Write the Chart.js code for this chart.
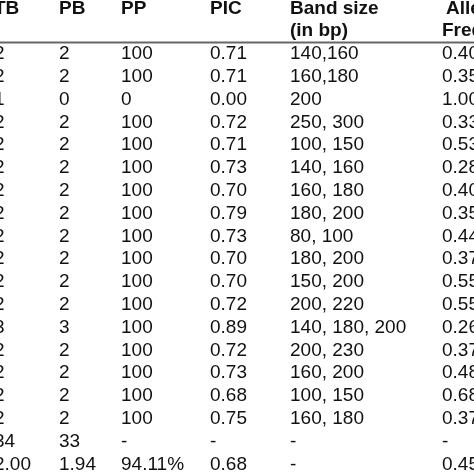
<!DOCTYPE html>
<html><head><meta charset="utf-8">
<script src="https://cdn.jsdelivr.net/npm/chart.js@4"></script>
<style>html,body{margin:0;padding:0;background:#fff}#w{width:474px;height:474px}</style>
</head><body><div id="w"><canvas id="c"></canvas></div>
<script>
const headers1 = ["TB","PB","PP","PIC","Band size","Allele"];
const headers2 = ["","","","","(in bp)","Frequency"];
const TB = ["2","2","1","2","2","2","2","2","2","2","2","2","3","2","2","2","2","34","2.00"];
const PB = ["2","2","0","2","2","2","2","2","2","2","2","2","3","2","2","2","2","33","1.94"];
const PP = ["100","100","0","100","100","100","100","100","100","100","100","100","100","100","100","100","100","-","94.11%"];
const PIC = ["0.71","0.71","0.00","0.72","0.71","0.73","0.70","0.79","0.73","0.70","0.70","0.72","0.89","0.72","0.73","0.68","0.75","-","0.68"];
const bandSize = ["140,160","160,180","200","250, 300","100, 150","140, 160","160, 180","180, 200","80, 100","180, 200","150, 200","200, 220","140, 180, 200","200, 230","160, 200","100, 150","160, 180","-","-"];
const alleleFreq = ["0.40","0.35","1.00","0.33","0.53","0.28","0.40","0.35","0.44","0.37","0.55","0.55","0.26","0.37","0.48","0.68","0.37","-","0.45"];
const columns = [TB, PB, PP, PIC, bandSize, alleleFreq];

const colX = [-6, 59, 121, 210, 290, 442];
const tablePlugin = {
  id: 'table',
  afterDraw(chart) {
    const ctx = chart.ctx, xs = chart.scales.x, ys = chart.scales.y;
    ctx.save();
    ctx.fillStyle = '#111';
    ctx.textBaseline = 'middle';
    ctx.font = 'bold 19px "Liberation Sans", Arial, sans-serif';
    headers1.forEach((h,i)=>ctx.fillText(h, xs.getPixelForValue(colX[i] + (i===5?4:0)), ys.getPixelForValue(9)));
    headers2.forEach((h,i)=>ctx.fillText(h, xs.getPixelForValue(colX[i]), ys.getPixelForValue(31)));
    ctx.strokeStyle = '#666'; ctx.lineWidth = 2;
    ctx.beginPath(); ctx.moveTo(xs.getPixelForValue(0), ys.getPixelForValue(42.5)); ctx.lineTo(xs.getPixelForValue(474), ys.getPixelForValue(42.5)); ctx.stroke();
    ctx.font = '19px "Liberation Sans", Arial, sans-serif';
    columns.forEach((col,i)=>col.forEach((v,r)=>{
      ctx.fillText(v, xs.getPixelForValue(colX[i]), ys.getPixelForValue(54 + r*22.8));
    }));
    ctx.restore();
  }
};
new Chart(document.getElementById('c'), {
  type: 'scatter',
  data: { datasets: [{ data: [], pointRadius: 0 }] },
  options: {
    responsive: true, maintainAspectRatio: false, animation: false,
    layout: { padding: 0 },
    plugins: { legend: { display: false }, tooltip: { enabled: false } },
    scales: {
      x: { type: 'linear', min: 0, max: 474, display: false },
      y: { type: 'linear', min: 0, max: 474, reverse: true, display: false }
    }
  },
  plugins: [tablePlugin]
});
</script></body></html>
